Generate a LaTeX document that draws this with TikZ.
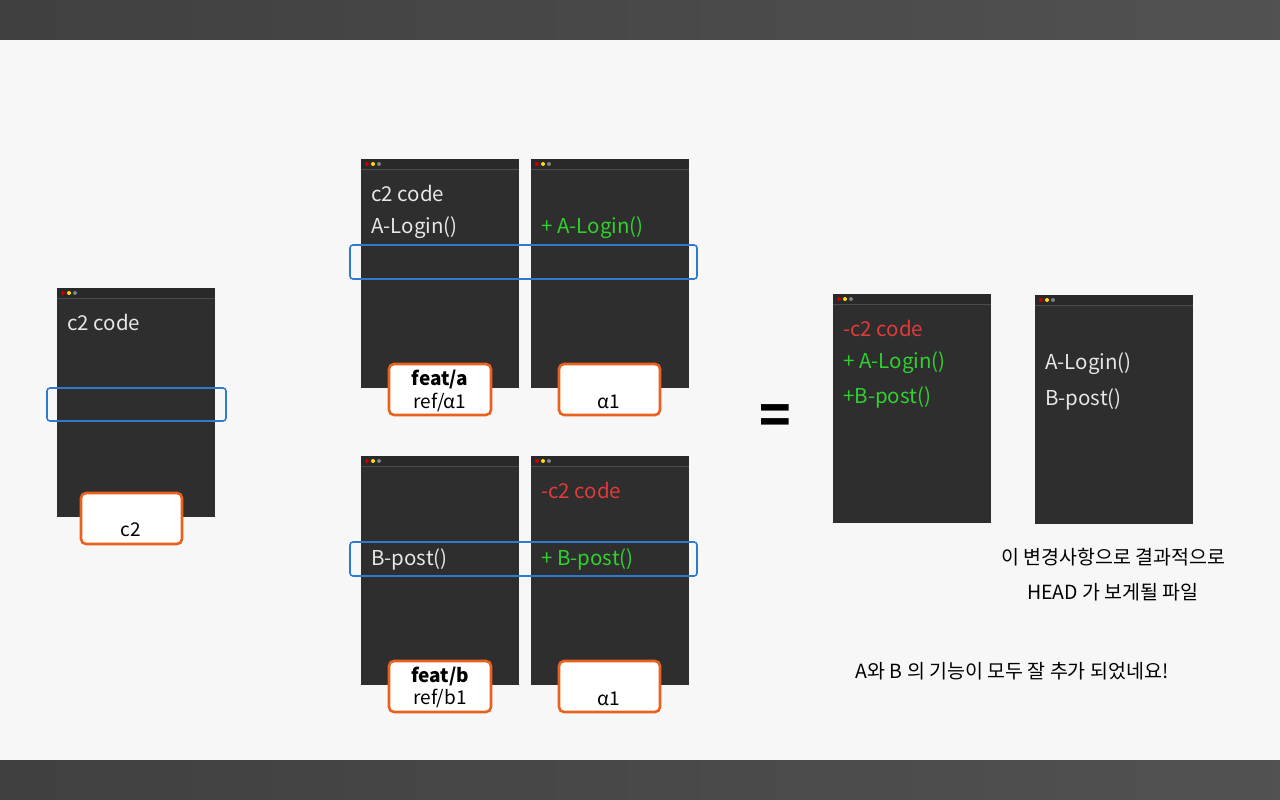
\documentclass[tikz,border=0pt]{standalone}
\usepackage{fontspec}
\setmainfont{Noto Sans CJK KR}
\definecolor{bg}{HTML}{F7F7F7}
\definecolor{win}{HTML}{2F2E2E}
\definecolor{bar}{HTML}{2A2929}
\definecolor{cblue}{HTML}{2F7AD0}
\definecolor{corange}{HTML}{E8621E}
\definecolor{cgreen}{HTML}{2FD02F}
\definecolor{cred}{HTML}{E03A3A}
\definecolor{ctext}{HTML}{E6E6E6}
\tikzset{
 codetxt/.style={anchor=west,font=\fontsize{20.5}{20}\selectfont,text=ctext,inner sep=0},
 green/.style={codetxt,text=cgreen},
 redt/.style={codetxt,text=cred},
 hl/.style={draw=cblue,line width=1.6pt,rounded corners=3pt},
 lab/.style={draw=corange,fill=white,line width=2.6pt,rounded corners=5pt},
 labtxt/.style={font=\fontsize{19}{19}\selectfont,inner sep=0,text=black},
 kor/.style={font=\fontsize{19.5}{19}\selectfont,inner sep=0,text=black}
}
\newcommand{\mywin}[3]{%
 \fill[win] (#1,#2) rectangle (#1+158,#2+229);
 \fill[bar] (#1,#2) rectangle (#1+158,#2+10);
 \draw[black!70,line width=0.6pt] (#1,#2+10) -- (#1+158,#2+10);
 \fill[red!80!black] (#1+6,#2+5) circle (2);
 \fill[yellow!80!orange] (#1+12,#2+5) circle (2);
 \fill[gray] (#1+18,#2+5) circle (2);
 \coordinate (#3) at (#1,#2);}
\begin{document}
\begin{tikzpicture}[x=1pt,y=-1pt]
\fill[bg] (0,0) rectangle (1280,800);
\shade[left color=black!75,right color=black!68] (0,0) rectangle (1280,40);
\shade[left color=black!75,right color=black!68] (0,760) rectangle (1280,800);
\useasboundingbox (0,0) rectangle (1280,800);
\mywin{57}{288}{w0}
\mywin{361}{159}{w1}
\mywin{531}{159}{w2}
\mywin{361}{456}{w3}
\mywin{531}{456}{w4}
\mywin{833}{294}{w5}
\mywin{1035}{295}{w6}
\node[codetxt] (t0) at (67,322) {c2 code};
\node[codetxt] (t1) at (371,193) {c2 code};
\node[codetxt] (t2) at (371,228) {A-Login()};
\node[green] (t3) at (541,228) {+ A-Login()};
\node[codetxt] (t4) at (371,559) {B-post()};
\node[redt] (t5) at (541,490) {-c2 code};
\node[green] (t6) at (541,559) {+ B-post()};
\node[redt] (t7) at (843,328) {-c2 code};
\node[green] (t8) at (843,363) {+ A-Login()};
\node[green] (t9) at (843,397) {+B-post()};
\node[codetxt] (t10) at (1045,364) {A-Login()};
\node[codetxt] (t11) at (1045,399) {B-post()};
\draw[hl] (47,388) rectangle (226,421);
\draw[hl] (350,245) rectangle (697,279);
\draw[hl] (350,542) rectangle (697,576);
\draw[lab] (81,493) rectangle (182,544);
\draw[lab] (389,364) rectangle (491,415);
\draw[lab] (559,364) rectangle (660,415);
\draw[lab] (389,661) rectangle (491,712);
\draw[lab] (559,661) rectangle (660,712);
\node[labtxt] (l0) at (131,530) {c2};
\node[labtxt,font=\fontsize{19}{19}\selectfont\bfseries] (l1) at (440,380) {feat/a};
\node[labtxt] (l2) at (440,403) {ref/α1};
\node[labtxt] (l3) at (609,402) {α1};
\node[labtxt,font=\fontsize{19}{19}\selectfont\bfseries] (l4) at (440,677) {feat/b};
\node[labtxt] (l5) at (440,699) {ref/b1};
\node[labtxt] (l6) at (609,699) {α1};
\node[inner sep=0,font=\fontsize{52}{52}\selectfont\bfseries] (eq) at (775,420) {=};
\node[kor] (k1) at (1113,557) {이 변경사항으로 결과적으로};
\node[kor] (k2) at (1113,592) {HEAD 가 보게될 파일};
\node[kor] (k3) at (1012,671) {A와 B 의 기능이 모두 잘 추가 되었네요!};
\end{tikzpicture}
\end{document}
